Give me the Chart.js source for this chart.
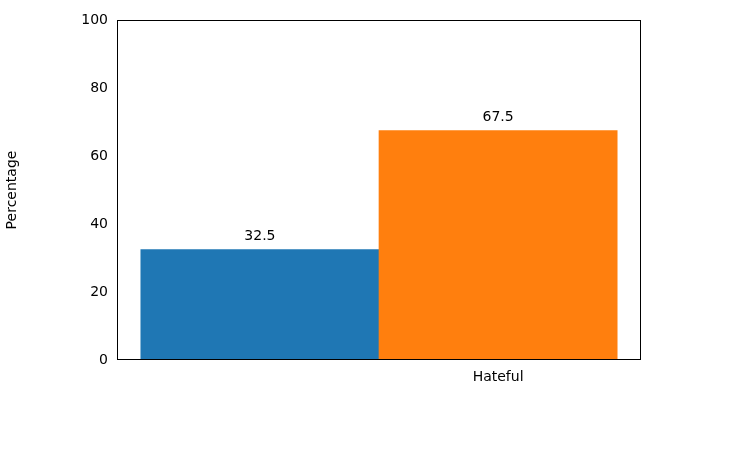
<!DOCTYPE html>
<html><head><meta charset="utf-8">
<script src="https://cdn.jsdelivr.net/npm/chart.js@4"></script>
<style>body{margin:0;background:#fff}#c{display:block}</style>
</head><body>
<canvas id="c" width="740" height="453"></canvas>
<script>
// Data
const positions=[0,1];
const values=[32.5,67.5];
const barColors=["#1f77b4","#ff7f0e"];
const tickLabels={1:"Hateful"};
const yTicks=[0,20,40,60,80,100];

Chart.defaults.font.family="'DejaVu Sans'";
Chart.defaults.font.size=14;
Chart.defaults.color="#000";

// frame + value labels
const extras={id:"extras",afterDraw(chart){
  const ctx=chart.ctx,a=chart.chartArea;
  ctx.save();
  ctx.strokeStyle="#000";ctx.lineWidth=1;
  ctx.strokeRect(a.left+0.5,a.top+0.5,a.right-a.left-1,a.bottom-a.top-1);
  ctx.font="14px 'DejaVu Sans'";ctx.textAlign="center";ctx.textBaseline="bottom";ctx.fillStyle="#000";
  chart.getDatasetMeta(0).data.forEach((bar,i)=>{
    ctx.fillText(values[i].toFixed(1),bar.x,bar.y-6);
  });
  ctx.restore();
}};

new Chart(document.getElementById("c"),{
  type:"bar",
  data:{datasets:[{data:positions.map((x,i)=>({x,y:values[i]})),backgroundColor:barColors,barPercentage:1,categoryPercentage:1}]},
  options:{
    responsive:false,animation:false,
    layout:{padding:{top:20,right:99,left:0,bottom:0}},
    plugins:{legend:{display:false},tooltip:{enabled:false}},
    scales:{
      x:{type:"linear",min:-0.6,max:1.6,offset:false,
        grid:{display:false,drawTicks:true,tickLength:5,tickColor:"#000"},
        border:{display:false},
        afterBuildTicks(s){s.ticks=Object.keys(tickLabels).map(v=>({value:Number(v)}));},
        afterFit(s){s.height=93;},
        ticks:{callback:v=>tickLabels[v]||"",padding:4,maxRotation:0}},
      y:{min:0,max:100,
        grid:{display:false,drawTicks:true,tickLength:5,tickColor:"#000"},
        border:{display:false},
        afterBuildTicks(s){s.ticks=yTicks.map(v=>({value:v}));},
        afterFit(s){s.width=117;},
        ticks:{padding:4},
        title:{display:true,text:"Percentage",font:{size:14},padding:{bottom:8}}}
    }
  },
  plugins:[extras]
});
</script>
</body></html>
